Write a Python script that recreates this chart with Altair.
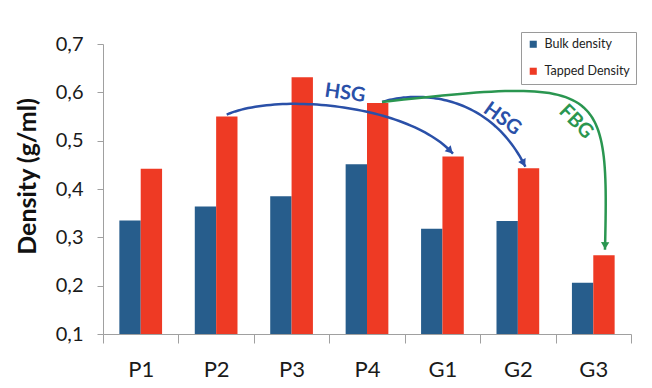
import math
import altair as alt
import pandas as pd

# ---- data -------------------------------------------------------------
categories = ["P1", "P2", "P3", "P4", "G1", "G2", "G3"]
series = ["Bulk density", "Tapped Density"]
bulk = [0.335, 0.364, 0.385, 0.451, 0.318, 0.334, 0.206]
tapped = [0.442, 0.550, 0.631, 0.578, 0.467, 0.443, 0.263]
y_ticks = [0.1, 0.2, 0.3, 0.4, 0.5, 0.6, 0.7]

# ---- style ------------------------------------------------------------
BLUE = "#275d8c"
RED = "#ee3a24"
ARROW_BLUE = "#2a50a8"
GREEN = "#2a9650"
FONT = "Lato"
W, H = 528, 290
Y_MIN, Y_MAX = 0.1, 0.7
N = len(categories)

rows = []
for i, c in enumerate(categories):
    rows.append({"cat": c, "series": series[0], "value": bulk[i]})
    rows.append({"cat": c, "series": series[1], "value": tapped[i]})
df = pd.DataFrame(rows)

# ---- annotations (cubic Bezier control points in data units) ----------
# x in category-index units (0..N), y in density units
arrows = [
    dict(label="HSG", color=ARROW_BLUE,
         pts=[(1.64, 0.554), (2.347, 0.601), (4.07, 0.573), (4.64, 0.473)],
         text=(3.208, 0.598, 8)),
    dict(label="HSG", color=ARROW_BLUE,
         pts=[(3.70, 0.580), (4.203, 0.605), (5.131, 0.595), (5.60, 0.446)],
         text=(5.294, 0.545, 36)),
    dict(label="FBG", color=GREEN,
         pts=[(3.70, 0.580), (6.655, 0.6318), (6.708, 0.6215), (6.655, 0.2745)],
         text=(6.271, 0.539, 45)),
]

sx = W / N
sy = H / (Y_MAX - Y_MIN)

xlin = alt.Scale(domain=[0, N], nice=False, zero=False)
ylin = alt.Scale(domain=[Y_MIN, Y_MAX], nice=False, zero=False)

layers = []

bars = alt.Chart(df).mark_bar().encode(
    x=alt.X("cat:N", sort=categories,
            scale=alt.Scale(paddingInner=0, paddingOuter=0),
            axis=alt.Axis(title=None, labelFont=FONT, labelFontSize=22,
                          labelColor="#1a1a1a", labelAngle=0,
                          tickBand="extent", tickSize=9, tickColor="#a0a0a0",
                          domainColor="#a0a0a0", labelPadding=16, grid=False)),
    xOffset=alt.XOffset("series:N", sort=series,
                        scale=alt.Scale(paddingInner=0, paddingOuter=0.766)),
    y=alt.Y("value:Q", stack=None, scale=ylin,
            axis=alt.Axis(values=y_ticks, title="Density (g/ml)",
                          labelExpr="replace(format(datum.value, '.1f'), '.', ',')",
                          labelFont=FONT, labelFontSize=20, labelColor="#1a1a1a",
                          tickSize=6, tickColor="#a0a0a0", domainColor="#a0a0a0",
                          labelPadding=14, grid=False,
                          titleFont=FONT, titleFontSize=25, titleFontWeight="bold",
                          titleColor="#111", titleX=-76, titleY=132,
                          titleBaseline="middle", titleAngle=270)),
    y2=alt.datum(Y_MIN),
    color=alt.Color("series:N", sort=series,
                    scale=alt.Scale(domain=series, range=[BLUE, RED]),
                    legend=alt.Legend(title=None, orient="none", legendX=418, legendY=-12,
                                      direction="vertical", symbolType="square",
                                      symbolSize=50, symbolStrokeWidth=0,
                                      labelFont=FONT, labelFontSize=12.5,
                                      labelColor="#222", padding=6, rowPadding=14,
                                      labelOffset=5, strokeColor="#9a9a9a",
                                      fillColor="white")),
)
layers.append(bars)


def bez(p, t):
    u = 1 - t
    a, b, c, d = u ** 3, 3 * t * u * u, 3 * t * t * u, t ** 3
    return (a * p[0][0] + b * p[1][0] + c * p[2][0] + d * p[3][0],
            a * p[0][1] + b * p[1][1] + c * p[2][1] + d * p[3][1])


for k, a in enumerate(arrows):
    p = a["pts"]
    steps = 60
    curve = []
    for s in range(steps + 1):
        t = s / steps
        x, y = bez(p, t)
        curve.append({"ax": x, "ay": y, "t": t})
    cdf = pd.DataFrame(curve)
    layers.append(alt.Chart(cdf).mark_line(color=a["color"], strokeWidth=2.5).encode(
        x=alt.X("ax:Q", scale=xlin, axis=None),
        y=alt.Y("ay:Q", scale=ylin),
        order="t:Q",
    ))
    # arrowhead orientation from end tangent in pixel space
    x1, y1 = bez(p, 0.97)
    dxp = (p[3][0] - x1) * sx
    dyp = -(p[3][1] - y1) * sy
    nrm = math.hypot(dxp, dyp)
    ux, uy = dxp / nrm, dyp / nrm
    ang = math.degrees(math.atan2(-ux, uy)) % 360
    back = 4.0
    hx = p[3][0] - ux * back / sx
    hy = p[3][1] + uy * back / sy
    hdf = pd.DataFrame([{"ax": hx, "ay": hy}])
    layers.append(alt.Chart(hdf).mark_point(shape="triangle-down", filled=True, size=70,
                                            angle=ang, color=a["color"], opacity=1,
                                            strokeWidth=0).encode(
        x=alt.X("ax:Q", scale=xlin, axis=None),
        y=alt.Y("ay:Q", scale=ylin),
    ))
    tx, ty, tang = a["text"]
    tdf = pd.DataFrame([{"ax": tx, "ay": ty, "lab": a["label"]}])
    layers.append(alt.Chart(tdf).mark_text(font=FONT, fontSize=20, fontWeight="bold",
                                           angle=tang, color=a["color"],
                                           baseline="middle", align="center").encode(
        x=alt.X("ax:Q", scale=xlin, axis=None),
        y=alt.Y("ay:Q", scale=ylin),
        text="lab:N",
    ))

chart = alt.layer(*layers).resolve_scale(x="independent").properties(
    width=W, height=H,
    padding={"left": 95, "top": 36, "right": 13, "bottom": 52},
    autosize=alt.AutoSizeParams(type="none"),
    background="white",
).configure_view(stroke=None)

chart.save("out.html", embed_options={"renderer": "svg", "actions": False})
